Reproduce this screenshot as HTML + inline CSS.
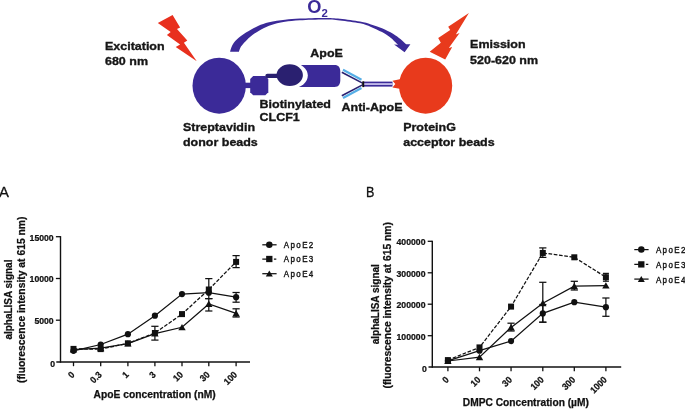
<!DOCTYPE html>
<html lang="en">
<head>
<meta charset="utf-8">
<title>alphaLISA figure</title>
<style>
html,body{margin:0;padding:0;background:#fff;}
body{width:685px;height:409px;overflow:hidden;}
svg{display:block;font-family:"Liberation Sans",Arial,Helvetica,sans-serif;}
</style>
</head>
<body>
<svg width="685" height="409" viewBox="0 0 685 409">
<rect width="685" height="409" fill="#fff"/>
<polygon points="157.8,23.0 172.6,15.0 180.1,27.6 177.0,28.9 187.3,40.5 183.9,42.7 196.8,61.2 175.7,47.1 180.1,44.5 166.9,35.1 170.7,32.0" fill="#e8301e"/>
<polygon points="468.9,13.0 448.2,26.7 450.2,30.1 438.2,38.1 440.8,42.7 429.7,51.8 445.2,59.6 452.2,47.1 448.8,48.1 459.6,33.1 455.8,34.5" fill="#e83a1c"/>
<path d="M230.1,51.7 C230.4,50.7 231.1,47.6 232.2,45.6 C233.3,43.6 234.5,41.8 236.8,39.6 C239.1,37.4 242.5,34.9 246.0,32.6 C249.5,30.3 254.2,27.7 258.0,26.0 C261.8,24.3 264.5,23.4 269.0,22.3 C273.5,21.2 279.8,20.3 285.0,19.7 C290.2,19.1 293.5,18.9 300.0,18.6 C306.5,18.3 317.3,18.0 324.0,18.0 C330.7,18.0 334.0,18.2 340.0,18.8 C346.0,19.4 354.8,20.7 360.0,21.6 C365.2,22.5 367.3,23.3 371.0,24.4 C374.7,25.5 378.3,26.6 382.0,28.2 C385.7,29.8 389.9,31.9 393.0,33.7 C396.1,35.5 398.5,37.5 400.7,39.2 C402.9,41.0 405.3,43.4 406.2,44.2 L410.4,44.2 L404.6,52.2 L394.1,44.5 L398.0,44.7 C397.5,44.2 396.6,43.3 395.2,42.0 C393.8,40.7 391.9,38.6 389.7,37.0 C387.5,35.4 385.1,33.8 382.0,32.1 C378.9,30.4 374.7,28.4 371.0,26.9 C367.3,25.4 365.2,24.4 360.0,23.3 C354.8,22.2 346.0,21.0 340.0,20.4 C334.0,19.8 330.7,19.5 324.0,19.5 C317.3,19.5 306.5,19.9 300.0,20.3 C293.5,20.7 289.2,21.1 285.0,21.7 C280.8,22.3 278.1,22.9 274.5,24.0 C270.9,25.1 267.2,26.4 263.5,28.2 C259.8,30.0 255.4,32.8 252.4,35.0 C249.4,37.2 247.3,39.5 245.4,41.4 C243.5,43.3 242.1,44.9 241.0,46.6 C239.9,48.3 239.2,50.9 238.9,51.7 Z" fill="#3b2a98"/>
<ellipse cx="219.2" cy="85.7" rx="26.7" ry="28" fill="#3b2a98"/>
<rect x="243" y="82.7" width="10" height="5.4" fill="#3b2a98"/>
<polygon points="253.2,76.1 265.3,76.1 268.3,79.1 268.3,92.2 265.3,95.2 253.2,95.2 250.2,92.2 250.2,79.1" fill="#3b2a98"/>
<path d="M298,65.1 H334.5 C338.6,65.1 340.3,67.6 340.3,72 V80 C340.3,84.4 338.6,86.9 334.5,86.9 H298 Z" fill="#3b2a98"/>
<ellipse cx="292.5" cy="75.6" rx="15.3" ry="12.6" fill="#fff"/>
<path d="M267.5,73.7 H280 V78.1 H267.5 A2.2,2.2 0 0 1 267.5,73.7 Z" fill="#2a2070"/>
<ellipse cx="289.7" cy="75.1" rx="13.2" ry="10.9" fill="#2a2070"/>
<line x1="343" y1="69.8" x2="361.5" y2="79.8" stroke="#55aee6" stroke-width="2.2"/>
<line x1="343" y1="98.0" x2="361.5" y2="88.0" stroke="#55aee6" stroke-width="2.2"/>
<line x1="341.8" y1="72.2" x2="363" y2="83.4" stroke="#2a2070" stroke-width="1.6"/>
<line x1="341.8" y1="95.8" x2="363" y2="84.6" stroke="#2a2070" stroke-width="1.6"/>
<rect x="363.5" y="81.6" width="29" height="5" fill="#3b2a98"/>
<rect x="364" y="83.2" width="28.5" height="1.7" fill="#cfc8f0"/>
<rect x="362.3" y="81.3" width="1.9" height="5.8" fill="#111"/>
<polygon points="392.5,80.7 395.3,84.0 392.5,87.4 401.0,89.0 401.0,79.0" fill="#e83a1c"/>
<ellipse cx="425.6" cy="85.7" rx="26.6" ry="28" fill="#e83a1c"/>
<text transform="translate(105.00,49.60) scale(1.095,1)" font-size="11.40" font-weight="bold" fill="#161616" text-anchor="start" stroke="#161616" stroke-width="0.35">Excitation</text>
<text transform="translate(105.00,65.30) scale(1.095,1)" font-size="11.40" font-weight="bold" fill="#161616" text-anchor="start" stroke="#161616" stroke-width="0.35">680 nm</text>
<text transform="translate(470.10,47.70) scale(1.095,1)" font-size="11.40" font-weight="bold" fill="#161616" text-anchor="start" stroke="#161616" stroke-width="0.35">Emission</text>
<text transform="translate(470.10,63.50) scale(1.095,1)" font-size="11.40" font-weight="bold" fill="#161616" text-anchor="start" stroke="#161616" stroke-width="0.35">520-620 nm</text>
<text transform="translate(310.30,56.80) scale(1.095,1)" font-size="11.40" font-weight="bold" fill="#161616" text-anchor="start" stroke="#161616" stroke-width="0.35">ApoE</text>
<text transform="translate(259.60,107.50) scale(1.095,1)" font-size="11.40" font-weight="bold" fill="#161616" text-anchor="start" stroke="#161616" stroke-width="0.35">Biotinylated</text>
<text transform="translate(259.60,120.50) scale(1.095,1)" font-size="11.40" font-weight="bold" fill="#161616" text-anchor="start" stroke="#161616" stroke-width="0.35">CLCF1</text>
<text transform="translate(183.00,130.70) scale(1.095,1)" font-size="11.40" font-weight="bold" fill="#161616" text-anchor="start" stroke="#161616" stroke-width="0.35">Streptavidin</text>
<text transform="translate(183.00,145.60) scale(1.095,1)" font-size="11.40" font-weight="bold" fill="#161616" text-anchor="start" stroke="#161616" stroke-width="0.35">donor beads</text>
<text transform="translate(341.60,110.70) scale(1.095,1)" font-size="11.40" font-weight="bold" fill="#161616" text-anchor="start" stroke="#161616" stroke-width="0.35">Anti-ApoE</text>
<text transform="translate(403.20,130.70) scale(1.095,1)" font-size="11.40" font-weight="bold" fill="#161616" text-anchor="start" stroke="#161616" stroke-width="0.35">ProteinG</text>
<text transform="translate(403.20,145.60) scale(1.095,1)" font-size="11.40" font-weight="bold" fill="#161616" text-anchor="start" stroke="#161616" stroke-width="0.35">acceptor beads</text>
<text transform="translate(307.3,12.9) scale(1.0,1)" font-size="18.2" font-weight="bold" fill="#3b2a98">O<tspan font-size="11.4" dy="4.1">2</tspan></text>
<text transform="translate(-1.1,196.6) scale(0.98,1)" font-size="15.2" fill="#111" stroke="#111" stroke-width="0.3">A</text>
<text transform="translate(366.1,197.4) scale(0.83,1)" font-size="15.2" fill="#111" stroke="#111" stroke-width="0.3">B</text>
<line x1="60.50" y1="236.10" x2="60.50" y2="362.70" stroke="#111" stroke-width="1.40"/>
<line x1="56.30" y1="362.00" x2="250.00" y2="362.00" stroke="#111" stroke-width="1.50"/>
<text transform="translate(55.10,366.80) scale(0.915,1)" font-size="9.5" font-weight="bold" fill="#111" stroke="#111" stroke-width="0.25" text-anchor="end">0</text>
<line x1="55.90" y1="320.20" x2="60.50" y2="320.20" stroke="#111" stroke-width="1.30"/>
<text transform="translate(53.70,324.00) scale(0.915,1)" font-size="9.5" font-weight="bold" fill="#111" stroke="#111" stroke-width="0.25" text-anchor="end">5000</text>
<line x1="55.90" y1="278.50" x2="60.50" y2="278.50" stroke="#111" stroke-width="1.30"/>
<text transform="translate(53.70,282.30) scale(0.915,1)" font-size="9.5" font-weight="bold" fill="#111" stroke="#111" stroke-width="0.25" text-anchor="end">10000</text>
<line x1="55.90" y1="236.70" x2="60.50" y2="236.70" stroke="#111" stroke-width="1.30"/>
<text transform="translate(53.70,240.50) scale(0.915,1)" font-size="9.5" font-weight="bold" fill="#111" stroke="#111" stroke-width="0.25" text-anchor="end">15000</text>
<line x1="73.50" y1="362.00" x2="73.50" y2="366.20" stroke="#111" stroke-width="1.30"/>
<text transform="translate(75.10,375.30) rotate(-45) scale(0.94,1)" font-size="9.2" font-weight="bold" fill="#111" stroke="#111" stroke-width="0.25" text-anchor="end">0</text>
<line x1="100.70" y1="362.00" x2="100.70" y2="366.20" stroke="#111" stroke-width="1.30"/>
<text transform="translate(102.30,375.30) rotate(-45) scale(0.94,1)" font-size="9.2" font-weight="bold" fill="#111" stroke="#111" stroke-width="0.25" text-anchor="end">0.3</text>
<line x1="127.90" y1="362.00" x2="127.90" y2="366.20" stroke="#111" stroke-width="1.30"/>
<text transform="translate(129.50,375.30) rotate(-45) scale(0.94,1)" font-size="9.2" font-weight="bold" fill="#111" stroke="#111" stroke-width="0.25" text-anchor="end">1</text>
<line x1="154.90" y1="362.00" x2="154.90" y2="366.20" stroke="#111" stroke-width="1.30"/>
<text transform="translate(156.50,375.30) rotate(-45) scale(0.94,1)" font-size="9.2" font-weight="bold" fill="#111" stroke="#111" stroke-width="0.25" text-anchor="end">3</text>
<line x1="182.00" y1="362.00" x2="182.00" y2="366.20" stroke="#111" stroke-width="1.30"/>
<text transform="translate(183.60,375.30) rotate(-45) scale(0.94,1)" font-size="9.2" font-weight="bold" fill="#111" stroke="#111" stroke-width="0.25" text-anchor="end">10</text>
<line x1="208.80" y1="362.00" x2="208.80" y2="366.20" stroke="#111" stroke-width="1.30"/>
<text transform="translate(210.40,375.30) rotate(-45) scale(0.94,1)" font-size="9.2" font-weight="bold" fill="#111" stroke="#111" stroke-width="0.25" text-anchor="end">30</text>
<line x1="236.10" y1="362.00" x2="236.10" y2="366.20" stroke="#111" stroke-width="1.30"/>
<text transform="translate(237.70,375.30) rotate(-45) scale(0.94,1)" font-size="9.2" font-weight="bold" fill="#111" stroke="#111" stroke-width="0.25" text-anchor="end">100</text>
<text x="93.60" y="397.70" font-size="10.3" font-weight="bold" stroke="#111" stroke-width="0.25" fill="#111" textLength="122.2" lengthAdjust="spacingAndGlyphs">ApoE concentration (nM)</text>
<text transform="translate(11.90,299.60) rotate(-90)" font-size="10.1" font-weight="bold" stroke="#111" stroke-width="0.25" fill="#111" text-anchor="middle" textLength="80" lengthAdjust="spacingAndGlyphs">alphaLISA signal</text>
<text transform="translate(24.60,299.80) rotate(-90)" font-size="10.1" font-weight="bold" stroke="#111" stroke-width="0.25" fill="#111" text-anchor="middle" textLength="166.5" lengthAdjust="spacingAndGlyphs">(fluorescence intensity at 615 nm)</text>
<line x1="262.30" y1="244.80" x2="276.60" y2="244.80" stroke="#111" stroke-width="1.25"/>
<circle cx="269.30" cy="244.80" r="3.26" fill="#111"/>
<text transform="translate(283.80,248.20) scale(0.815,1)" font-size="9.8" fill="#111" stroke="#111" stroke-width="0.4" letter-spacing="1.7">ApoE2</text>
<line x1="262.30" y1="259.00" x2="276.80" y2="259.00" stroke="#111" stroke-width="1.25" stroke-dasharray="5 6.6 2.4 20"/>
<rect x="266.15" y="255.85" width="6.30" height="6.30" fill="#111"/>
<text transform="translate(283.80,262.40) scale(0.815,1)" font-size="9.8" fill="#111" stroke="#111" stroke-width="0.4" letter-spacing="1.7">ApoE3</text>
<line x1="262.30" y1="273.70" x2="276.60" y2="273.70" stroke="#111" stroke-width="1.25"/>
<polygon points="269.3,270.5 272.8,276.6 265.8,276.6" fill="#111"/>
<text transform="translate(283.80,277.10) scale(0.815,1)" font-size="9.8" fill="#111" stroke="#111" stroke-width="0.4" letter-spacing="1.7">ApoE4</text>
<polyline points="73.50,349.60 100.70,348.20 127.90,343.60 154.90,333.60 182.00,327.30 208.80,304.00 236.10,313.40" fill="none" stroke="#111" stroke-width="1.25"/>
<line x1="208.80" y1="298.60" x2="208.80" y2="311.00" stroke="#111" stroke-width="1.25"/>
<line x1="205.20" y1="298.60" x2="212.40" y2="298.60" stroke="#111" stroke-width="1.25"/>
<line x1="205.20" y1="311.00" x2="212.40" y2="311.00" stroke="#111" stroke-width="1.25"/>
<line x1="236.10" y1="308.80" x2="236.10" y2="317.00" stroke="#111" stroke-width="1.25"/>
<line x1="232.50" y1="308.80" x2="239.70" y2="308.80" stroke="#111" stroke-width="1.25"/>
<line x1="232.50" y1="317.00" x2="239.70" y2="317.00" stroke="#111" stroke-width="1.25"/>
<polygon points="73.5,346.2 77.2,352.6 69.8,352.6" fill="#111"/>
<polygon points="100.7,344.8 104.4,351.2 97.0,351.2" fill="#111"/>
<polygon points="127.9,340.2 131.6,346.6 124.2,346.6" fill="#111"/>
<polygon points="154.9,330.2 158.6,336.6 151.2,336.6" fill="#111"/>
<polygon points="182.0,323.9 185.7,330.3 178.3,330.3" fill="#111"/>
<polygon points="208.8,300.6 212.5,307.0 205.1,307.0" fill="#111"/>
<polygon points="236.1,310.0 239.8,316.4 232.4,316.4" fill="#111"/>
<polyline points="73.50,350.80 100.70,344.50 127.90,334.20 154.90,315.70 182.00,294.10 208.80,292.70 236.10,297.20" fill="none" stroke="#111" stroke-width="1.25"/>
<line x1="236.10" y1="292.50" x2="236.10" y2="302.20" stroke="#111" stroke-width="1.25"/>
<line x1="232.50" y1="292.50" x2="239.70" y2="292.50" stroke="#111" stroke-width="1.25"/>
<line x1="232.50" y1="302.20" x2="239.70" y2="302.20" stroke="#111" stroke-width="1.25"/>
<circle cx="73.50" cy="350.80" r="3.10" fill="#111"/>
<circle cx="100.70" cy="344.50" r="3.10" fill="#111"/>
<circle cx="127.90" cy="334.20" r="3.10" fill="#111"/>
<circle cx="154.90" cy="315.70" r="3.10" fill="#111"/>
<circle cx="182.00" cy="294.10" r="3.10" fill="#111"/>
<circle cx="208.80" cy="292.70" r="3.10" fill="#111"/>
<circle cx="236.10" cy="297.20" r="3.10" fill="#111"/>
<polyline points="73.50,348.90 100.70,349.10 127.90,343.30 154.90,333.00 182.00,314.10 208.80,289.50 236.10,261.90" fill="none" stroke="#111" stroke-width="1.25" stroke-dasharray="3.7 1.6"/>
<line x1="154.90" y1="326.30" x2="154.90" y2="340.10" stroke="#111" stroke-width="1.25"/>
<line x1="151.30" y1="326.30" x2="158.50" y2="326.30" stroke="#111" stroke-width="1.25"/>
<line x1="151.30" y1="340.10" x2="158.50" y2="340.10" stroke="#111" stroke-width="1.25"/>
<line x1="208.80" y1="278.60" x2="208.80" y2="298.60" stroke="#111" stroke-width="1.25"/>
<line x1="205.20" y1="278.60" x2="212.40" y2="278.60" stroke="#111" stroke-width="1.25"/>
<line x1="205.20" y1="298.60" x2="212.40" y2="298.60" stroke="#111" stroke-width="1.25"/>
<line x1="236.10" y1="255.60" x2="236.10" y2="267.60" stroke="#111" stroke-width="1.25"/>
<line x1="232.50" y1="255.60" x2="239.70" y2="255.60" stroke="#111" stroke-width="1.25"/>
<line x1="232.50" y1="267.60" x2="239.70" y2="267.60" stroke="#111" stroke-width="1.25"/>
<rect x="70.50" y="345.90" width="6.00" height="6.00" fill="#111"/>
<rect x="97.70" y="346.10" width="6.00" height="6.00" fill="#111"/>
<rect x="124.90" y="340.30" width="6.00" height="6.00" fill="#111"/>
<rect x="151.90" y="330.00" width="6.00" height="6.00" fill="#111"/>
<rect x="179.00" y="311.10" width="6.00" height="6.00" fill="#111"/>
<rect x="205.80" y="286.50" width="6.00" height="6.00" fill="#111"/>
<rect x="233.10" y="258.90" width="6.00" height="6.00" fill="#111"/>
<line x1="432.30" y1="240.70" x2="432.30" y2="367.80" stroke="#111" stroke-width="1.40"/>
<line x1="428.50" y1="367.10" x2="621.20" y2="367.10" stroke="#111" stroke-width="1.50"/>
<text transform="translate(426.90,371.90) scale(0.915,1)" font-size="9.5" font-weight="bold" fill="#111" stroke="#111" stroke-width="0.25" text-anchor="end">0</text>
<line x1="427.70" y1="335.70" x2="432.30" y2="335.70" stroke="#111" stroke-width="1.30"/>
<text transform="translate(425.50,339.50) scale(0.915,1)" font-size="9.5" font-weight="bold" fill="#111" stroke="#111" stroke-width="0.25" text-anchor="end">100000</text>
<line x1="427.70" y1="304.20" x2="432.30" y2="304.20" stroke="#111" stroke-width="1.30"/>
<text transform="translate(425.50,308.00) scale(0.915,1)" font-size="9.5" font-weight="bold" fill="#111" stroke="#111" stroke-width="0.25" text-anchor="end">200000</text>
<line x1="427.70" y1="272.80" x2="432.30" y2="272.80" stroke="#111" stroke-width="1.30"/>
<text transform="translate(425.50,276.60) scale(0.915,1)" font-size="9.5" font-weight="bold" fill="#111" stroke="#111" stroke-width="0.25" text-anchor="end">300000</text>
<line x1="427.70" y1="241.30" x2="432.30" y2="241.30" stroke="#111" stroke-width="1.30"/>
<text transform="translate(425.50,245.10) scale(0.915,1)" font-size="9.5" font-weight="bold" fill="#111" stroke="#111" stroke-width="0.25" text-anchor="end">400000</text>
<line x1="447.90" y1="367.10" x2="447.90" y2="371.30" stroke="#111" stroke-width="1.30"/>
<text transform="translate(449.50,380.40) rotate(-45) scale(0.94,1)" font-size="9.2" font-weight="bold" fill="#111" stroke="#111" stroke-width="0.25" text-anchor="end">0</text>
<line x1="479.50" y1="367.10" x2="479.50" y2="371.30" stroke="#111" stroke-width="1.30"/>
<text transform="translate(481.10,380.40) rotate(-45) scale(0.94,1)" font-size="9.2" font-weight="bold" fill="#111" stroke="#111" stroke-width="0.25" text-anchor="end">10</text>
<line x1="511.05" y1="367.10" x2="511.05" y2="371.30" stroke="#111" stroke-width="1.30"/>
<text transform="translate(512.65,380.40) rotate(-45) scale(0.94,1)" font-size="9.2" font-weight="bold" fill="#111" stroke="#111" stroke-width="0.25" text-anchor="end">30</text>
<line x1="542.80" y1="367.10" x2="542.80" y2="371.30" stroke="#111" stroke-width="1.30"/>
<text transform="translate(544.40,380.40) rotate(-45) scale(0.94,1)" font-size="9.2" font-weight="bold" fill="#111" stroke="#111" stroke-width="0.25" text-anchor="end">100</text>
<line x1="574.30" y1="367.10" x2="574.30" y2="371.30" stroke="#111" stroke-width="1.30"/>
<text transform="translate(575.90,380.40) rotate(-45) scale(0.94,1)" font-size="9.2" font-weight="bold" fill="#111" stroke="#111" stroke-width="0.25" text-anchor="end">300</text>
<line x1="605.90" y1="367.10" x2="605.90" y2="371.30" stroke="#111" stroke-width="1.30"/>
<text transform="translate(607.50,380.40) rotate(-45) scale(0.94,1)" font-size="9.2" font-weight="bold" fill="#111" stroke="#111" stroke-width="0.25" text-anchor="end">1000</text>
<text x="462.80" y="406.00" font-size="10.3" font-weight="bold" stroke="#111" stroke-width="0.25" fill="#111" textLength="126.1" lengthAdjust="spacingAndGlyphs">DMPC Concentration (µM)</text>
<text transform="translate(378.60,304.20) rotate(-90)" font-size="10.1" font-weight="bold" stroke="#111" stroke-width="0.25" fill="#111" text-anchor="middle" textLength="80" lengthAdjust="spacingAndGlyphs">alphaLISA signal</text>
<text transform="translate(390.80,305.30) rotate(-90)" font-size="10.1" font-weight="bold" stroke="#111" stroke-width="0.25" fill="#111" text-anchor="middle" textLength="166.5" lengthAdjust="spacingAndGlyphs">(fluorescence intensity at 615 nm)</text>
<line x1="634.30" y1="249.60" x2="648.60" y2="249.60" stroke="#111" stroke-width="1.25"/>
<circle cx="641.30" cy="249.60" r="3.26" fill="#111"/>
<text transform="translate(655.90,253.00) scale(0.815,1)" font-size="9.8" fill="#111" stroke="#111" stroke-width="0.4" letter-spacing="1.7">ApoE2</text>
<line x1="634.30" y1="264.40" x2="648.80" y2="264.40" stroke="#111" stroke-width="1.25" stroke-dasharray="5 6.6 2.4 20"/>
<rect x="638.15" y="261.25" width="6.30" height="6.30" fill="#111"/>
<text transform="translate(655.90,267.80) scale(0.815,1)" font-size="9.8" fill="#111" stroke="#111" stroke-width="0.4" letter-spacing="1.7">ApoE3</text>
<line x1="634.30" y1="279.10" x2="648.60" y2="279.10" stroke="#111" stroke-width="1.25"/>
<polygon points="641.3,275.9 644.8,282.0 637.8,282.0" fill="#111"/>
<text transform="translate(655.90,282.50) scale(0.815,1)" font-size="9.8" fill="#111" stroke="#111" stroke-width="0.4" letter-spacing="1.7">ApoE4</text>
<polyline points="447.90,361.00 479.50,357.20 511.05,327.40 542.80,303.20 574.30,286.20 605.90,285.60" fill="none" stroke="#111" stroke-width="1.25"/>
<line x1="511.05" y1="323.20" x2="511.05" y2="331.00" stroke="#111" stroke-width="1.25"/>
<line x1="507.45" y1="323.20" x2="514.65" y2="323.20" stroke="#111" stroke-width="1.25"/>
<line x1="507.45" y1="331.00" x2="514.65" y2="331.00" stroke="#111" stroke-width="1.25"/>
<line x1="542.80" y1="282.30" x2="542.80" y2="322.20" stroke="#111" stroke-width="1.25"/>
<line x1="539.20" y1="282.30" x2="546.40" y2="282.30" stroke="#111" stroke-width="1.25"/>
<line x1="539.20" y1="322.20" x2="546.40" y2="322.20" stroke="#111" stroke-width="1.25"/>
<line x1="574.30" y1="281.30" x2="574.30" y2="290.00" stroke="#111" stroke-width="1.25"/>
<line x1="570.70" y1="281.30" x2="577.90" y2="281.30" stroke="#111" stroke-width="1.25"/>
<line x1="570.70" y1="290.00" x2="577.90" y2="290.00" stroke="#111" stroke-width="1.25"/>
<polygon points="447.9,357.6 451.6,364.0 444.2,364.0" fill="#111"/>
<polygon points="479.5,353.8 483.2,360.2 475.8,360.2" fill="#111"/>
<polygon points="511.1,324.0 514.8,330.4 507.4,330.4" fill="#111"/>
<polygon points="542.8,299.8 546.5,306.2 539.1,306.2" fill="#111"/>
<polygon points="574.3,282.8 578.0,289.2 570.6,289.2" fill="#111"/>
<polygon points="605.9,282.2 609.6,288.6 602.2,288.6" fill="#111"/>
<polyline points="447.90,360.80 479.50,350.70 511.05,341.10 542.80,313.40 574.30,302.20 605.90,307.20" fill="none" stroke="#111" stroke-width="1.25"/>
<line x1="542.80" y1="304.50" x2="542.80" y2="322.20" stroke="#111" stroke-width="1.25"/>
<line x1="539.20" y1="304.50" x2="546.40" y2="304.50" stroke="#111" stroke-width="1.25"/>
<line x1="539.20" y1="322.20" x2="546.40" y2="322.20" stroke="#111" stroke-width="1.25"/>
<line x1="605.90" y1="298.00" x2="605.90" y2="316.30" stroke="#111" stroke-width="1.25"/>
<line x1="602.30" y1="298.00" x2="609.50" y2="298.00" stroke="#111" stroke-width="1.25"/>
<line x1="602.30" y1="316.30" x2="609.50" y2="316.30" stroke="#111" stroke-width="1.25"/>
<circle cx="447.90" cy="360.80" r="3.10" fill="#111"/>
<circle cx="479.50" cy="350.70" r="3.10" fill="#111"/>
<circle cx="511.05" cy="341.10" r="3.10" fill="#111"/>
<circle cx="542.80" cy="313.40" r="3.10" fill="#111"/>
<circle cx="574.30" cy="302.20" r="3.10" fill="#111"/>
<circle cx="605.90" cy="307.20" r="3.10" fill="#111"/>
<polyline points="447.90,360.10 479.50,347.40 511.05,306.60 542.80,252.95 574.30,257.30 605.90,277.20" fill="none" stroke="#111" stroke-width="1.25" stroke-dasharray="3.7 1.6"/>
<line x1="542.80" y1="247.90" x2="542.80" y2="257.40" stroke="#111" stroke-width="1.25"/>
<line x1="539.20" y1="247.90" x2="546.40" y2="247.90" stroke="#111" stroke-width="1.25"/>
<line x1="539.20" y1="257.40" x2="546.40" y2="257.40" stroke="#111" stroke-width="1.25"/>
<line x1="605.90" y1="273.40" x2="605.90" y2="281.20" stroke="#111" stroke-width="1.25"/>
<line x1="602.90" y1="273.40" x2="608.90" y2="273.40" stroke="#111" stroke-width="1.25"/>
<line x1="602.90" y1="281.20" x2="608.90" y2="281.20" stroke="#111" stroke-width="1.25"/>
<rect x="444.90" y="357.10" width="6.00" height="6.00" fill="#111"/>
<rect x="476.50" y="344.40" width="6.00" height="6.00" fill="#111"/>
<rect x="508.05" y="303.60" width="6.00" height="6.00" fill="#111"/>
<rect x="539.80" y="249.95" width="6.00" height="6.00" fill="#111"/>
<rect x="571.30" y="254.30" width="6.00" height="6.00" fill="#111"/>
<rect x="602.90" y="274.20" width="6.00" height="6.00" fill="#111"/>
</svg>
</body>
</html>
